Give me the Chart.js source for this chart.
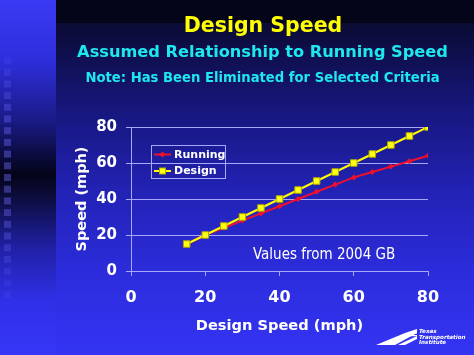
<!DOCTYPE html>
<html><head><meta charset="utf-8">
<script src="https://cdn.jsdelivr.net/npm/chart.js@4/dist/chart.umd.min.js"></script>
<style>html,body{margin:0;padding:0;background:#1a1a80;overflow:hidden}canvas{display:block}</style>
</head><body>
<canvas id="c" width="474" height="355"></canvas>
<script>
// ---- data ----
const designSpeeds = [15,20,25,30,35,40,45,50,55,60,65,70,75,80];
const runningSpeed = [15,20,24,28,32,36,40,44,48,52,55,58,61,64];
const designSpeedValues = [15,20,25,30,35,40,45,50,55,60,65,70,75,80];
const seriesNames = ['Running','Design'];
const yTickValues = [0,20,40,60,80];
const xTickValues = [0,20,40,60,80];
const titleText = 'Design Speed';
const subtitleText = 'Assumed Relationship to Running Speed';
const noteText = 'Note: Has Been Eliminated for Selected Criteria';
const xTitleText = 'Design Speed (mph)';
const yTitleText = 'Speed (mph)';
const annotationText = 'Values from 2004 GB';
const logoLines = ['Texas','Transportation','Institute'];

const GRID = '#a8a8f8';
const BOLD = 'DejaVu Sans';

function mkPoints(xs, ys){ return xs.map((x,i)=>({x:x, y:ys[i]})); }

const bgPlugin = {
  id:'bg',
  beforeDraw(chart){
    const ctx = chart.ctx, W = chart.width, H = chart.height;
    ctx.save();
    let g = ctx.createLinearGradient(0,23,0,H);
    g.addColorStop(0,'#0b0b34');
    g.addColorStop(0.25,'#16167a');
    g.addColorStop(0.5,'#2222b4');
    g.addColorStop(0.75,'#2c2cdc');
    g.addColorStop(1,'#3434f4');
    ctx.fillStyle = g; ctx.fillRect(0,0,W,H);
    ctx.fillStyle = '#05051a'; ctx.fillRect(56,0,W-56,23);
    // left strip
    g = ctx.createLinearGradient(0,0,0,H);
    g.addColorStop(0,'#3a3af4');
    g.addColorStop(0.17,'#2e2edc');
    g.addColorStop(0.34,'#1a1a86');
    g.addColorStop(0.49,'#04041a');
    g.addColorStop(0.55,'#0c0c3a');
    g.addColorStop(0.7,'#2020a6');
    g.addColorStop(0.85,'#3030e8');
    g.addColorStop(1,'#3636f8');
    ctx.fillStyle = g; ctx.fillRect(0,0,56,H);
    // squares
    for (let k=0;k<21;k++){
      const y = 57 + k*11.7;
      const t = k/20;
      const a = 0.12 + 0.3*Math.sin(Math.PI*Math.min(1,Math.max(0,t*1.05)));
      ctx.fillStyle = 'rgba(110,110,255,'+a.toFixed(2)+')';
      ctx.fillRect(4,y,7,7);
    }
    ctx.restore();
  }
};

const decoPlugin = {
  id:'deco',
  afterDraw(chart){
    const ctx = chart.ctx;
    ctx.save();
    ctx.textAlign = 'center'; ctx.textBaseline = 'alphabetic';
    ctx.fillStyle = '#ffff00';
    ctx.font = 'bold 20.5px "'+BOLD+'"';
    ctx.fillText(titleText, 263, 32);
    ctx.fillStyle = '#1ee8ee';
    ctx.font = 'bold 16.2px "'+BOLD+'"';
    ctx.fillText(subtitleText, 262.5, 57);
    ctx.font = 'bold 13.2px "'+BOLD+'"';
    ctx.fillText(noteText, 262.5, 82);
    // annotation
    ctx.fillStyle = '#ffffff';
    ctx.textAlign = 'left';
    ctx.font = '15px "DejaVu Sans Condensed"';
    ctx.fillText(annotationText, 253, 259);
    // legend
    ctx.strokeStyle = GRID; ctx.lineWidth = 1;
    ctx.strokeRect(151.5,145.5,74,33);
    chart.data.datasets.forEach((ds,i)=>{
      const y = 154.5 + i*16.5;
      ctx.strokeStyle = ds.borderColor; ctx.lineWidth = 2;
      ctx.beginPath(); ctx.moveTo(154,y); ctx.lineTo(171,y); ctx.stroke();
      ctx.fillStyle = ds.pointBackgroundColor;
      ctx.strokeStyle = ds.pointBorderColor; ctx.lineWidth = 1;
      if (ds.pointStyle === 'rectRot'){
        ctx.beginPath(); ctx.moveTo(162.5,y-3); ctx.lineTo(165.5,y); ctx.lineTo(162.5,y+3); ctx.lineTo(159.5,y); ctx.closePath(); ctx.fill();
      } else {
        ctx.fillRect(159.5,y-3,6,6); ctx.strokeRect(159.5,y-3,6,6);
      }
      ctx.fillStyle = '#ffffff';
      ctx.font = 'bold 11px "'+BOLD+'"';
      ctx.textBaseline = 'middle';
      ctx.fillText(ds.label, 174, y+0.5);
    });
    // logo
    ctx.fillStyle = '#ffffff';
    ctx.beginPath();
    ctx.moveTo(376,345); ctx.lineTo(405,333); ctx.lineTo(417,329); ctx.lineTo(417,333); ctx.lineTo(395,345); ctx.closePath(); ctx.fill();
    ctx.beginPath();
    ctx.moveTo(398,345); ctx.lineTo(417,336); ctx.lineTo(417,339); ctx.lineTo(405,345); ctx.closePath(); ctx.fill();
    ctx.fillRect(408,332,9,1.5);
    ctx.fillRect(404,335,13,1.2);
    ctx.font = 'italic bold 5.6px "'+BOLD+'"';
    ctx.textBaseline = 'alphabetic';
    ctx.textAlign = 'left';
    logoLines.forEach((t,i)=>ctx.fillText(t, 419, 333 + i*5.6));
    ctx.restore();
  }
};

new Chart(document.getElementById('c'), {
  type:'line',
  data:{
    datasets:[
      { label: seriesNames[0], data: mkPoints(designSpeeds, runningSpeed),
        borderColor:'#f0102c', backgroundColor:'#f0102c', borderWidth:2,
        pointStyle:'rectRot', pointRadius:3, pointBackgroundColor:'#f0102c', pointBorderColor:'#f0102c', pointBorderWidth:0,
        order:1, tension:0 },
      { label: seriesNames[1], data: mkPoints(designSpeeds, designSpeedValues),
        borderColor:'#ffff00', backgroundColor:'#ffff00', borderWidth:2,
        pointStyle:'rect', pointRadius:4.6, pointBackgroundColor:'#ffff10', pointBorderColor:'#b0a800', pointBorderWidth:1,
        order:0, tension:0 }
    ]
  },
  options:{
    responsive:false, animation:false, devicePixelRatio:1,
    layout:{ padding:{ left:0, right:46, top:127, bottom:0 } },
    plugins:{ legend:{display:false}, tooltip:{enabled:false}, title:{display:false} },
    scales:{
      x:{ type:'linear', min:0, max:80,
        afterBuildTicks(s){ s.ticks = xTickValues.map(v=>({value:v})); },
        afterFit(s){ s.height = 84; },
        grid:{ drawOnChartArea:false, drawTicks:true, tickLength:5, color:GRID, lineWidth:1 },
        border:{ display:true, color:GRID, width:1 },
        ticks:{ color:'#ffffff', font:{family:BOLD, weight:'bold', size:16}, padding:12, maxRotation:0 },
        title:{ display:true, text:xTitleText, color:'#ffffff', font:{family:BOLD, weight:'bold', size:14.6}, padding:{bottom:20, top:0} }
      },
      y:{ type:'linear', min:0, max:80,
        afterBuildTicks(s){ s.ticks = yTickValues.map(v=>({value:v})); },
        afterFit(s){ s.width = 131; },
        grid:{ drawOnChartArea:true, drawTicks:true, tickLength:5, color:GRID, lineWidth:1 },
        border:{ display:true, color:GRID, width:1 },
        ticks:{ color:'#ffffff', font:{family:BOLD, weight:'bold', size:15}, padding:9 },
        title:{ display:true, text:yTitleText, color:'#ffffff', font:{family:BOLD, weight:'bold', size:14.5}, padding:{top:74, bottom:0} }
      }
    }
  },
  plugins:[bgPlugin, decoPlugin]
});
</script>
</body></html>
